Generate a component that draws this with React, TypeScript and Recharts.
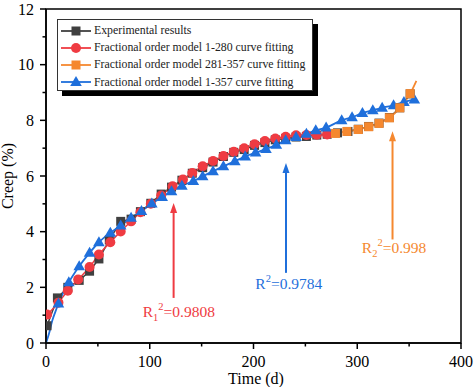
import { Line, LineChart, ReferenceArea, ReferenceDot, ReferenceLine, XAxis, YAxis } from "recharts"

// measured creep
const expDays = [1, 11, 21, 32, 42, 51, 61, 72, 82, 91, 101, 111, 121, 131, 141, 151, 161, 171, 181, 191, 201, 211, 221, 231, 241, 251, 261, 271, 281, 291, 301, 311, 321, 331, 341, 351]
const expCreep = [0.62, 1.62, 2.0, 2.25, 2.58, 3.02, 3.7, 4.37, 4.45, 4.72, 5.02, 5.35, 5.6, 5.85, 6.1, 6.3, 6.5, 6.7, 6.85, 6.95, 7.1, 7.2, 7.3, 7.35, 7.4, 7.42, 7.47, 7.5, 7.55, 7.6, 7.68, 7.78, 7.9, 8.1, 8.45, 8.95]

// fractional model fitted on 1-280
const fit1Days = [1, 12, 21, 31, 42, 51, 62, 72, 82, 91, 101, 111, 122, 132, 141, 151, 161, 171, 181, 191, 201, 211, 221, 231, 241, 251, 261, 271]
const fit1Creep = [1.02, 1.45, 1.88, 2.28, 2.73, 3.18, 3.62, 4.01, 4.37, 4.7, 5.0, 5.3, 5.63, 5.87, 6.11, 6.35, 6.54, 6.72, 6.87, 7.0, 7.14, 7.26, 7.35, 7.41, 7.46, 7.47, 7.48, 7.49]

// fractional model fitted on 281-357 (last point is the curve end, no marker)
const fit2Days = [279, 290, 301, 311, 321, 331, 341, 351]
const fit2Creep = [7.53, 7.6, 7.67, 7.77, 7.89, 8.09, 8.45, 8.96]
const fit2EndDays = [357]
const fit2EndCreep = [9.42]

// fractional model fitted on 1-357 (first points are the curve start, no marker)
const fit3StartDays = [0, 3, 6, 9]
const fit3StartCreep = [0, 0.35, 0.8, 1.12]
const fit3Days = [12, 22, 32, 42, 51, 62, 72, 82, 92, 102, 112, 121, 131, 142, 151, 161, 171, 182, 192, 202, 212, 222, 231, 241, 251, 260, 270, 285, 295, 305, 315, 324, 335, 345, 355]
const fit3Creep = [1.42, 2.18, 2.76, 3.24, 3.62, 3.96, 4.22, 4.5, 4.74, 5.01, 5.25, 5.45, 5.65, 5.82, 5.99, 6.17, 6.35, 6.53, 6.7, 6.84, 6.97, 7.12, 7.28, 7.4, 7.52, 7.64, 7.74, 8.0, 8.11, 8.26, 8.36, 8.45, 8.54, 8.66, 8.75]

const xTicks = [0, 50, 100, 150, 200, 250, 300, 350, 400]
const yTicks = [0, 1, 2, 3, 4, 5, 6, 7, 8, 9, 10, 11, 12]

const BLACK = "#404040"
const RED = "#ef3b42"
const ORANGE = "#f5882f"
const BLUE = "#1f6fdb"

const arrows = [
  { day: 123, from: 1.62, to: 5.03, color: RED, labelDay: 128, labelCreep: 0.93, sub: "1", value: "0.9808" },
  { day: 231.3, from: 2.52, to: 6.47, color: BLUE, labelDay: 234, labelCreep: 1.94, sub: "", value: "0.9784" },
  { day: 334, from: 3.72, to: 7.61, color: ORANGE, labelDay: 335.5, labelCreep: 3.23, sub: "2", value: "0.998" },
]

const zip = (days: number[], creep: number[]) => days.map((x, i) => ({ x, y: creep[i] }))

const expData = zip(expDays, expCreep)
const fit1Data = zip(fit1Days, fit1Creep)
const fit2Data = [...zip(fit2Days, fit2Creep), ...zip(fit2EndDays, fit2EndCreep)]
const fit3Data = [...zip(fit3StartDays, fit3StartCreep), ...zip(fit3Days, fit3Creep)]

type MarkerKind = "square" | "circle" | "triangle"

function Marker({ kind, cx, cy, color }: { kind: MarkerKind; cx: number; cy: number; color: string }) {
  if (kind === "circle") return <circle cx={cx} cy={cy} r={5} fill={color} />
  if (kind === "triangle")
    return <polygon points={`${cx},${cy - 6} ${cx + 5.8},${cy + 4} ${cx - 5.8},${cy + 4}`} fill={color} />
  return <rect x={cx - 4.5} y={cy - 4.5} width={9} height={9} fill={color} />
}

function makeDot(kind: MarkerKind, color: string, first: number, last: number) {
  return (props: any) => {
    const { cx, cy, index } = props
    if (index < first || index > last || cx == null || cy == null) return <g key={index} />
    return <Marker key={index} kind={kind} cx={cx} cy={cy} color={color} />
  }
}

function XTick({ x, y, payload }: any) {
  const major = payload.value % 100 === 0
  return (
    <g>
      <line x1={x} x2={x} y1={y} y2={y + (major ? 6 : 3.5)} stroke="#000" strokeWidth={1.5} />
      {major && (
        <text x={x} y={y + 23.5} textAnchor="middle" fontSize={16} fill="#000">
          {payload.value}
        </text>
      )}
    </g>
  )
}

function YTick({ x, y, payload }: any) {
  const major = payload.value % 2 === 0
  return (
    <g>
      <line x1={x} x2={x - (major ? 6 : 3.5)} y1={y} y2={y} stroke="#000" strokeWidth={1.5} />
      {major && (
        <text x={x - 12} y={y} dy="0.35em" textAnchor="end" fontSize={16} fill="#000">
          {payload.value}
        </text>
      )}
    </g>
  )
}

function ArrowShape({ x1, y1, x2, y2, color }: any) {
  return (
    <g>
      <line x1={x1} y1={y1} x2={x2} y2={y2 + 8} stroke={color} strokeWidth={2} />
      <polygon points={`${x2},${y2} ${x2 + 3.5},${y2 + 10} ${x2 - 3.5},${y2 + 10}`} fill={color} />
    </g>
  )
}

function RLabel({ cx, cy, color, sub, value }: any) {
  return (
    <text x={cx} y={cy} textAnchor="middle" fontSize={15.5} fill={color}>
      R
      {sub && (
        <tspan dy={4} fontSize={10.5}>
          {sub}
        </tspan>
      )}
      <tspan dy={sub ? -11 : -7} fontSize={10.5}>
        2
      </tspan>
      <tspan dy={7}>={value}</tspan>
    </text>
  )
}

const legendItems: { label: string; color: string; kind: MarkerKind }[] = [
  { label: "Experimental results", color: BLACK, kind: "square" },
  { label: "Fractional order model 1-280 curve fitting", color: RED, kind: "circle" },
  { label: "Fractional order model 281-357 curve fitting", color: ORANGE, kind: "square" },
  { label: "Fractional order model 1-357 curve fitting", color: BLUE, kind: "triangle" },
]

function ChartLegend() {
  return (
    <div
      style={{
        position: "absolute",
        left: 57,
        top: 19,
        width: 256,
        height: 72,
        boxSizing: "border-box",
        border: "1px solid #333",
        background: "#fff",
        boxShadow: "5px 5px 0 #000",
        paddingTop: 2,
      }}
    >
      {legendItems.map((item) => (
        <div key={item.label} style={{ display: "flex", alignItems: "center", height: 17.2 }}>
          <svg width={34} height={14} style={{ marginLeft: 2, flex: "none" }}>
            <line x1={1} x2={31} y1={7} y2={7} stroke={item.color} strokeWidth={1.8} />
            <Marker kind={item.kind} cx={16} cy={7} color={item.color} />
          </svg>
          <span style={{ fontSize: 11.8, color: "#222", whiteSpace: "nowrap" }}>{item.label}</span>
        </div>
      ))}
    </div>
  )
}

export default function App() {
  return (
    <div
      style={{
        position: "absolute",
        left: 0,
        top: 0,
        width: 474,
        height: 387,
        background: "#fff",
        fontFamily: "'Liberation Serif', 'Times New Roman', serif",
      }}
    >
      <LineChart width={474} height={387} margin={{ top: 9, right: 13, bottom: 0, left: 0 }}>
        <XAxis
          type="number"
          dataKey="x"
          domain={[0, 400]}
          ticks={xTicks}
          interval={0}
          tickSize={0}
          tickMargin={0}
          tick={<XTick />}
          height={44}
          axisLine={{ stroke: "#000", strokeWidth: 1.5 }}
          allowDataOverflow
        />
        <YAxis
          type="number"
          domain={[0, 12]}
          ticks={yTicks}
          interval={0}
          tickSize={0}
          tickMargin={0}
          tick={<YTick />}
          width={46}
          axisLine={{ stroke: "#000", strokeWidth: 1.5 }}
          allowDataOverflow
        />
        <ReferenceArea x1={0} x2={400} y1={0} y2={12} fill="none" stroke="#000" strokeWidth={1.5} />
        <Line
          data={expData}
          dataKey="y"
          stroke={BLACK}
          strokeWidth={1.5}
          dot={makeDot("square", BLACK, 0, expData.length - 1)}
          activeDot={false}
          isAnimationActive={false}
        />
        <Line
          data={fit1Data}
          dataKey="y"
          type="monotone"
          stroke={RED}
          strokeWidth={1.5}
          dot={makeDot("circle", RED, 0, fit1Data.length - 1)}
          activeDot={false}
          isAnimationActive={false}
        />
        <Line
          data={fit3Data}
          dataKey="y"
          type="monotone"
          stroke={BLUE}
          strokeWidth={1.8}
          dot={makeDot("triangle", BLUE, fit3StartDays.length, fit3Data.length - 1)}
          activeDot={false}
          isAnimationActive={false}
        />
        <Line
          data={fit2Data}
          dataKey="y"
          type="monotone"
          stroke={ORANGE}
          strokeWidth={1.8}
          dot={makeDot("square", ORANGE, 0, fit2Days.length - 1)}
          activeDot={false}
          isAnimationActive={false}
        />
        {arrows.map((a) => (
          <ReferenceLine
            key={a.value}
            segment={[
              { x: a.day, y: a.from },
              { x: a.day, y: a.to },
            ]}
            stroke={a.color}
            shape={(p: any) => <ArrowShape {...p} color={a.color} />}
          />
        ))}
        {arrows.map((a) => (
          <ReferenceDot
            key={"l" + a.value}
            x={a.labelDay}
            y={a.labelCreep}
            r={0}
            shape={(p: any) => <RLabel cx={p.cx} cy={p.cy} color={a.color} sub={a.sub} value={a.value} />}
          />
        ))}
        <text x={256} y={383.5} textAnchor="middle" fontSize={16} fill="#000">
          Time (d)
        </text>
        <text x={13} y={176} textAnchor="middle" fontSize={16} fill="#000" transform="rotate(-90 13 176)">
          Creep (%)
        </text>
      </LineChart>
      <ChartLegend />
    </div>
  )
}
